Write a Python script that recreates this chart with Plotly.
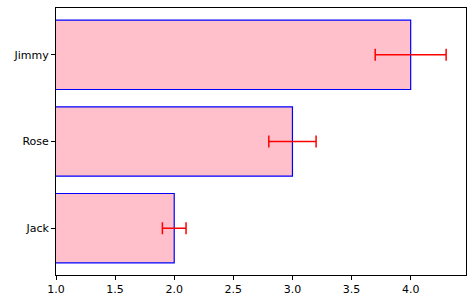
import plotly.graph_objects as go

names = ["Jack", "Rose", "Jimmy"]
values = [2, 3, 4]
errors = [0.1, 0.2, 0.3]
x_ticks = [1.0, 1.5, 2.0, 2.5, 3.0, 3.5, 4.0]

fig = go.Figure()
fig.add_trace(go.Bar(
    y=[0, 1, 2], x=values, orientation="h", width=0.8,
    marker=dict(color="#FFC0CB", line=dict(color="#0000FF", width=1.2)),
    error_x=dict(type="data", array=errors, color="#FF0000", thickness=1.5, width=6),
))
fig.update_layout(
    width=474, height=304,
    margin=dict(l=56, r=8, t=8, b=29),
    plot_bgcolor="white", paper_bgcolor="white",
    showlegend=False,
    font=dict(family="DejaVu Sans", size=11, color="black"),
)
fig.update_xaxes(
    range=[1.0, 4.468], tickvals=x_ticks, ticktext=[f"{v:.1f}" for v in x_ticks],
    showgrid=False, zeroline=False, showline=True, linecolor="black", linewidth=1,
    mirror=True, ticks="outside", ticklen=4, tickcolor="black",
)
fig.update_yaxes(
    range=[-0.54, 2.54], tickvals=[0, 1, 2], ticktext=names,
    showgrid=False, zeroline=False, showline=True, linecolor="black", linewidth=1,
    mirror=True, ticks="outside", ticklen=4, tickcolor="black",
)
fig.write_html("out.html")
